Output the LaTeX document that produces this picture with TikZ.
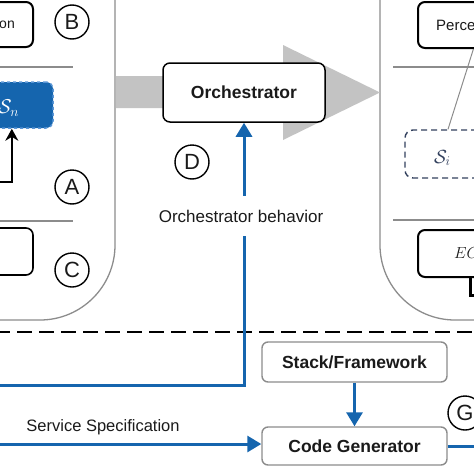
\documentclass[tikz,border=0pt]{standalone}
\usepackage{fix-cm}
\usepackage{fontspec}
\setmainfont{Liberation Sans}
\usetikzlibrary{arrows.meta,calc}
\definecolor{myblue}{HTML}{1565AE}
\definecolor{panelgray}{HTML}{8C8C8C}
\definecolor{arrowgray}{HTML}{C3C3C3}
\definecolor{navy}{HTML}{33415E}
\definecolor{dashblue}{HTML}{5A96D6}
\definecolor{txt}{HTML}{1A1A1A}
\begin{document}
\begin{tikzpicture}[x=1pt,y=-1pt,
  panel/.style={draw=panelgray,line width=1.3pt},
  sepline/.style={draw=panelgray,line width=1.3pt},
  letter/.style={circle,draw=black,line width=1.4pt,minimum size=34pt,inner sep=0pt,text=txt,font=\fontsize{22}{24}\selectfont},
  boxk/.style={draw=black,line width=2pt,rounded corners=7pt,fill=white,inner sep=0pt},
  gbox/.style={draw=panelgray,line width=1.4pt,rounded corners=6pt,fill=white,inner sep=0pt,text=txt,font=\bfseries\fontsize{17.5}{20}\selectfont},
  bluearrow/.style={draw=myblue,line width=3pt,-{Triangle[length=14pt,width=16pt]}},
  blueline/.style={draw=myblue,line width=3pt},
  lbl/.style={text=txt,inner sep=0pt},
]
\useasboundingbox (0,0) rectangle (474,474);
\clip (0,0) rectangle (474,474);
% panels
\draw[panel] (115,-10) [rounded corners=75pt] -- (115,320) -- (-10,320);
\draw[panel] (380,-10) [rounded corners=75pt] -- (380,320) -- (495,320);
% big gray arrow
\fill[arrowgray] (116,76) -- (283,76) -- (283,45) -- (380,92.5) -- (283,140) -- (283,108) -- (116,108) -- cycle;
% separator lines
\draw[sepline] (-10,67) -- (73,67);
\draw[sepline] (-10,221) -- (73,221);
\draw[sepline] (393,67) -- (495,67);
\draw[sepline] (393,220) -- (495,220);
% left panel boxes
\node[boxk,minimum width=43pt,minimum height=45pt] (ltop) at (11.5,24.5) {};
\node[lbl,anchor=base east,font=\fontsize{14}{16}\selectfont] (ltoptxt) at (15,28) {on};
\node[draw=dashblue,dashed,line width=1.5pt,fill=myblue,rounded corners=7pt,minimum width=63pt,minimum height=46pt] (sn) at (21.5,105) {};
\node[anchor=base west,inner sep=0pt,text=white,font=\fontsize{20}{22}\selectfont] (sntxt) at (-2,113) {$\mathcal{S}_n$};
\node[draw=black,line width=1.6pt,rounded corners=7pt,minimum width=43pt,minimum height=47pt] (lbot) at (11.5,251.5) {};
\coordinate (bin) at (-10,182);
\draw[black,line width=2.5pt,-{Stealth[length=12pt,width=13pt]}] (bin) -| ($(sn.south west)!0.35!(sn.south east)$);
% circles
\node[letter] (B) at (72,22) {B};
\node[letter] (A) at (72,187) {A};
\node[letter] (C) at (72,270) {C};
\node[letter] (D) at (192,162) {D};
\node[letter] (G) at (465,413) {G};
% orchestrator
\node[boxk,line width=1.5pt,minimum width=162pt,minimum height=59pt,text=txt,font=\bfseries\fontsize{17.5}{20}\selectfont] (orch) at (244,92.5) {Orchestrator};
% right panel
\node[boxk,minimum width=77pt,minimum height=46pt] (perc) at (456.5,25) {};
\node[lbl,anchor=base west,font=\fontsize{15}{17}\selectfont] (perctxt) at (436,30) {Perce};
\node[draw=navy,line width=1.4pt,dash pattern=on 6pt off 4pt,rounded corners=8pt,minimum width=90pt,minimum height=48pt] (si) at (450,154) {};
\node[anchor=base west,inner sep=0pt,text=navy,font=\fontsize{19}{21}\selectfont] (sitxt) at (434,163) {$\mathcal{S}_i$};
\draw[panelgray,line width=1pt] ($(perc.south west)!0.714!(perc.south east)$) -- ($(si.north west)!0.478!(si.north east)$);
\node[boxk,minimum width=77pt,minimum height=47pt] (ec) at (456.5,253.5) {};
\node[anchor=base west,inner sep=0pt,text=txt,font=\fontsize{16}{18}\selectfont] (ectxt) at (454,258) {$EC$};
\coordinate (ecout) at (495,295);
\draw[black,line width=3pt] ($(ec.south west)!0.675!(ec.south east)$) |- (ecout);
% dashed divider
\coordinate (dl) at (-5,332);
\coordinate (dr) at (480,332);
\draw[black,line width=2pt,dash pattern=on 15pt off 7pt] (dl) -- (dr);
% bottom boxes
\node[gbox,minimum width=185pt,minimum height=40pt] (stack) at (354.5,362) {Stack/Framework};
\node[gbox,minimum width=185pt,minimum height=38pt] (code) at (354.5,446) {Code Generator};
\draw[bluearrow] (stack) -- (code);
\coordinate (ssin) at (-10,444);
\draw[bluearrow] (ssin) -- (ssin -| code.west);
\coordinate (rout) at (495,446);
\draw[blueline] (code.east) -- (code.east -| rout);
\node[lbl,font=\fontsize{16.5}{18}\selectfont] (sstxt) at (103,427) {Service Specification};
% orchestrator behavior arrow
\coordinate (obin) at (-10,385);
\draw[bluearrow] (obin) -| (orch.south);
\node[fill=white,inner xsep=1pt,minimum height=40pt,text=txt,font=\fontsize{17}{19}\selectfont] (obtxt) at (241,216) {Orchestrator behavior};
\end{tikzpicture}
\end{document}
